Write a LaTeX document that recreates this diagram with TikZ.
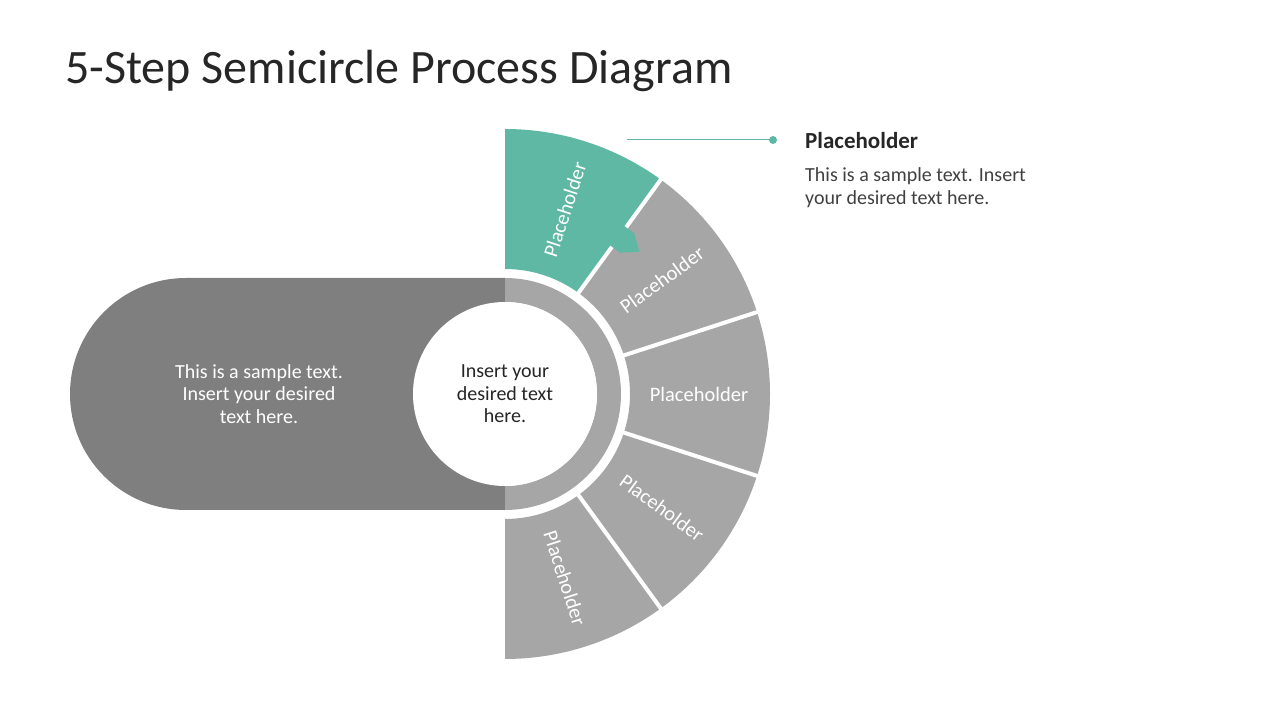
\documentclass[tikz,border=0pt]{standalone}
\usepackage{fontspec}
\setmainfont{Carlito}
\usetikzlibrary{positioning}
\definecolor{stepgreen}{RGB}{94,184,164}
\definecolor{stepgray}{RGB}{166,166,166}
\definecolor{pillgray}{RGB}{127,127,127}
\definecolor{titleink}{RGB}{38,38,38}
\definecolor{bodyink}{RGB}{64,64,64}

\begin{document}
\begin{tikzpicture}[x=1pt,y=1pt,
  lbl/.style={text=white,font=\fontsize{20.5}{24}\selectfont},
  body/.style={align=center,font=\fontsize{20}{22.5}\selectfont}]
  \useasboundingbox (0,0) rectangle (1280,720);
  \node[anchor=base west,inner sep=0,text=titleink,font=\fontsize{48}{54}\selectfont] (title) at (65,636) {5-Step Semicircle Process Diagram};
  % pill and hub
  \fill[pillgray] (505,442) -- (186,442) arc[start angle=90,end angle=270,radius=116] -- (505,210) -- cycle;
  \begin{scope}[shift={(505,326)}]
    \fill[stepgray] (90:116) arc[start angle=90,end angle=-90,radius=116] -- (-90:92) arc[start angle=-90,end angle=90,radius=92] -- cycle;
    \fill[white] (0,0) circle (92);
    \foreach \a/\c in {90/stepgreen,54/stepgray,18/stepgray,-18/stepgray,-54/stepgray}{
      \fill[\c] (\a:125) arc[start angle=\a,end angle=\a-36,radius=125] -- (\a-36:265) arc[start angle=\a-36,end angle=\a,radius=265] -- cycle;
    }
    \foreach \a in {54,18,-18,-54}{\draw[white,line width=4] (\a:120) -- (\a:270);}
    \fill[stepgreen,rotate=54] (182,4) -- (206,4) -- (206,-10) -- (194,-25) -- (182,-10) -- cycle;
    \foreach \m [count=\i] in {72,36,0,-36,-72}{
      \node[lbl,rotate=\m] (seg\i) at (\m:194) {Placeholder};
    }
  \end{scope}
  \node[body,text=white] (pilltxt) at (259,326) {This is a sample text.\\Insert your desired\\text here.};
  \node[body,text=titleink] (hubtxt) at (505,326) {Insert your\\desired text\\here.};
  % callout
  \coordinate (lineL) at (627,580);
  \node[circle,fill=stepgreen,inner sep=0,minimum size=8] (dot) at (773,580) {};
  \draw[stepgreen,line width=1] (lineL) -- (dot);
  \node[anchor=base west,inner sep=0,text=titleink,font=\bfseries\fontsize{23}{26}\selectfont] (headR) at (805,571) {Placeholder};
  \node[anchor=north west,inner sep=0,align=left,text=bodyink,font=\fontsize{20}{23}\selectfont] (bodyR) at (805,553) {This is a sample text. Insert\\your desired text here.};
\end{tikzpicture}
\end{document}
